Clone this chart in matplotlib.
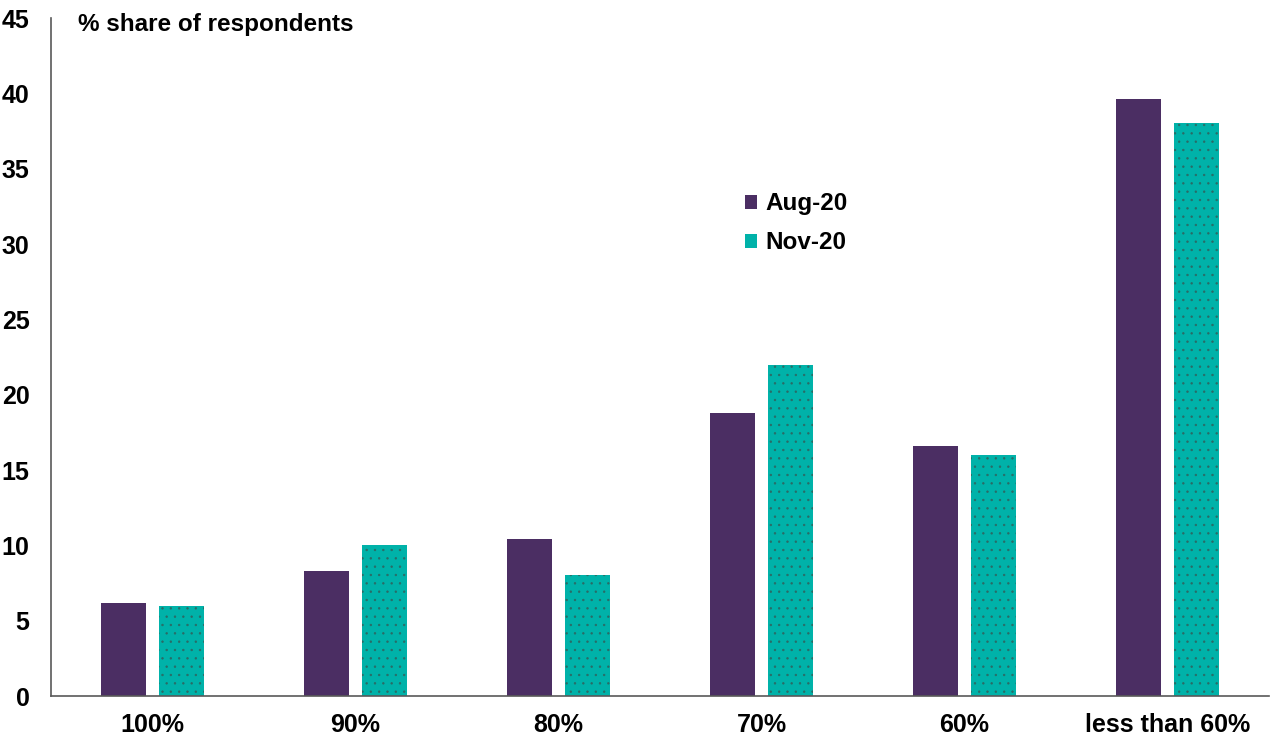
import matplotlib
matplotlib.use("Agg")
import matplotlib.pyplot as plt
import numpy as np

categories = ["100%", "90%", "80%", "70%", "60%", "less than 60%"]
aug20 = [6.2, 8.3, 10.4, 18.8, 16.6, 39.6]
nov20 = [6.0, 10.0, 8.0, 22.0, 16.0, 38.0]

purple = "#4b2e63"
teal = "#00b2a9"

plt.rcParams["font.family"] = ["Liberation Sans", "DejaVu Sans"]
plt.rcParams["font.weight"] = "bold"
plt.rcParams["hatch.linewidth"] = 0.5

fig = plt.figure(figsize=(12.8, 7.41), dpi=100)
ax = fig.add_axes([51 / 1280, 1 - 696 / 741, 1218 / 1280, 678 / 741])

x = np.arange(len(categories))
w = 0.222
off = 0.143
b1 = ax.bar(x - off, aug20, w, color=purple, label="Aug-20", linewidth=0)
b2 = ax.bar(x + off, nov20, w, color=teal, label="Nov-20", linewidth=0)
# dotted texture on the teal bars
ax.bar(x + off, nov20, w, fill=False, hatch="..", edgecolor="#2a6b66", linewidth=0)

ax.set_xlim(-0.5, len(categories) - 0.5)
ax.set_ylim(0, 45)
ax.set_yticks(range(0, 46, 5))
ax.set_xticks(x)
ax.set_xticklabels(categories)
ax.tick_params(axis="both", length=0, labelsize=18)
ax.tick_params(axis="x", pad=12)
ax.tick_params(axis="y", pad=15.5)
for s in ["top", "right"]:
    ax.spines[s].set_visible(False)
for s in ["left", "bottom"]:
    ax.spines[s].set_color("#595959")
    ax.spines[s].set_linewidth(1.2)

ax.text(0.022, 0.99, "% share of respondents", transform=ax.transAxes,
        fontsize=17.5, fontweight="bold", va="center", ha="left")

ax.legend(handles=[b1, b2], loc="upper left", bbox_to_anchor=(0.552, 0.775),
          frameon=False, fontsize=17.5, handlelength=0.5, handleheight=0.5,
          handletextpad=0.35, labelspacing=0.65)

fig.savefig("out.png", dpi=100)
